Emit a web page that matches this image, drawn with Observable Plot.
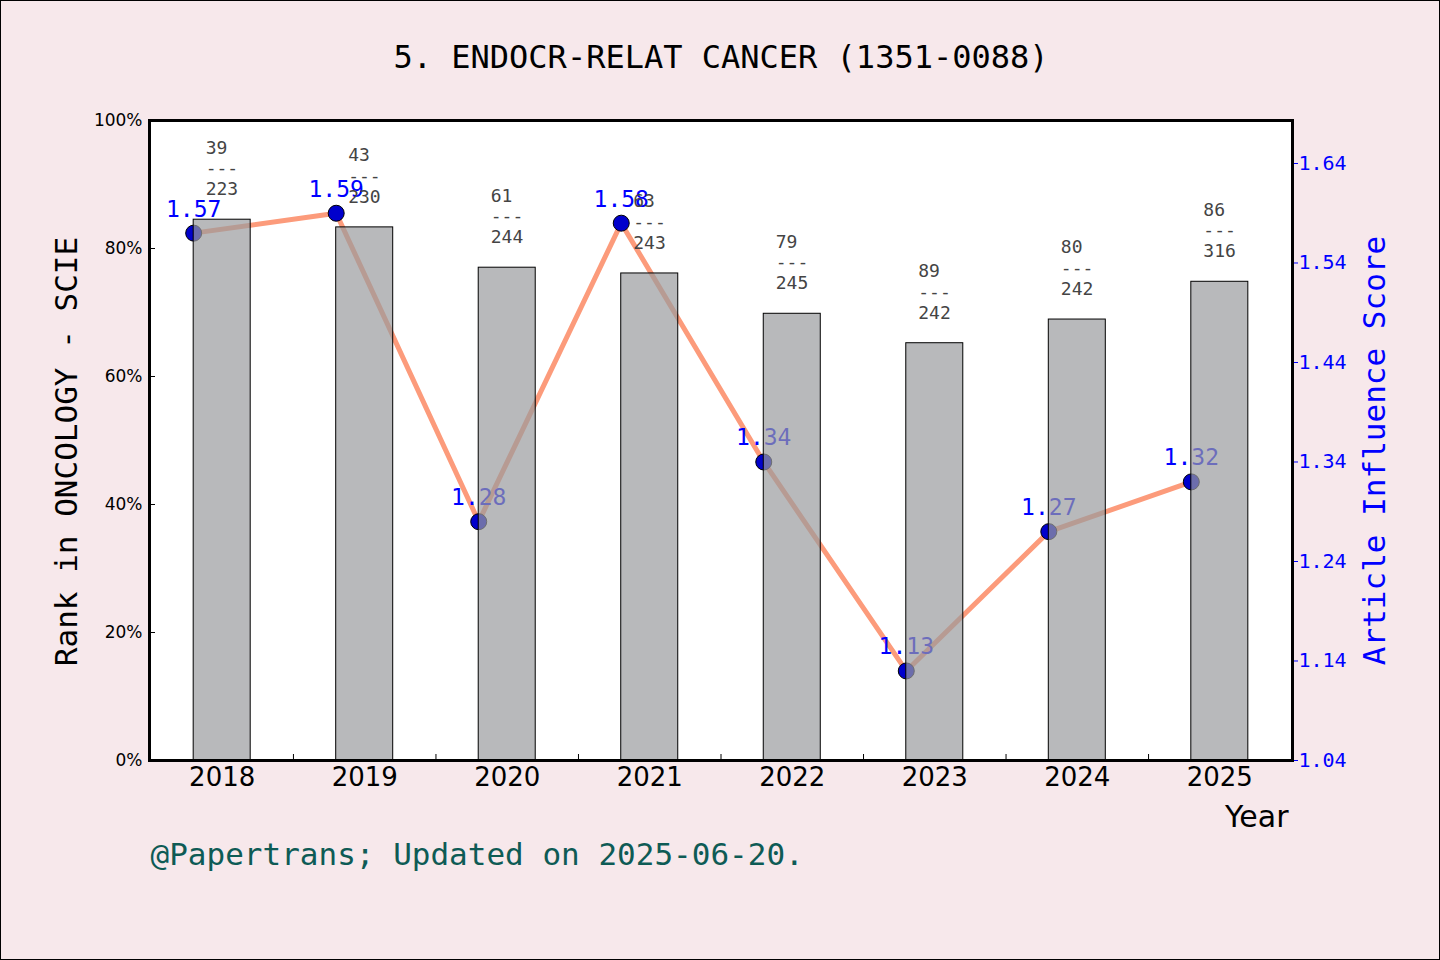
<!DOCTYPE html>
<html>
<head>
<meta charset="utf-8">
<script src="https://cdn.jsdelivr.net/npm/d3@7"></script>
<script src="https://cdn.jsdelivr.net/npm/@observablehq/plot@0.6"></script>
<style>
  html, body { margin: 0; padding: 0; background: #f7e8eb; }
  #wrap { position: relative; width: 1440px; height: 960px; overflow: hidden; }
  #border { position: absolute; left: 0; top: 0; width: 1440px; height: 960px; box-sizing: border-box; border: 1px solid #000; pointer-events: none; }
</style>
</head>
<body>
<div id="wrap"><div id="chart"></div><div id="border"></div></div>
<script>
const titleText = "5. ENDOCR-RELAT CANCER (1351-0088)";
const leftLabel = "Rank in ONCOLOGY - SCIE";
const rightLabel = "Article Influence Score";
const xLabel = "Year";
const caption = "@Papertrans; Updated on 2025-06-20.";

const years = ["2018", "2019", "2020", "2021", "2022", "2023", "2024", "2025"];
const ranks = [39, 43, 61, 63, 79, 89, 80, 86];
const totals = [223, 230, 244, 243, 245, 242, 242, 316];
const pctValues = [0.845, 0.833, 0.770, 0.761, 0.698, 0.652, 0.689, 0.748];
const aisValues = [1.57, 1.59, 1.28, 1.58, 1.34, 1.13, 1.27, 1.32];

const pctTicks = [0, 0.2, 0.4, 0.6, 0.8, 1.0];
const aisTicks = [1.04, 1.14, 1.24, 1.34, 1.44, 1.54, 1.64];
const aisMin = 1.04;
const aisMax = 1.6832;

const toY = v => (v - aisMin) / (aisMax - aisMin);
const fromY = y => aisMin + y * (aisMax - aisMin);

const data = years.map((year, i) => ({
  year, i, rank: ranks[i], total: totals[i], pct: pctValues[i], ais: aisValues[i]
}));
const minorTicks = years.slice(0, -1).map((_, i) => i + 0.7);

const mono = "DejaVu Sans Mono";
const sans = "DejaVu Sans";

const chart = Plot.plot({
  width: 1440,
  height: 960,
  marginTop: 120,
  marginBottom: 200,
  marginLeft: 149,
  marginRight: 148,
  style: { background: "transparent", overflow: "visible" },
  x: { domain: [-0.31, 7.71], axis: null },
  y: { domain: [0, 1], axis: null },
  marks: [
    Plot.frame({ fill: "white" }),
    Plot.line(data, { x: "i", y: d => toY(d.ais), stroke: "#fc9b7b", strokeWidth: 5 }),
    Plot.dot(data, { x: "i", y: d => toY(d.ais), r: 8, fill: "#0000cc", stroke: "black", strokeWidth: 1 }),
    Plot.text(data, { x: "i", y: d => toY(d.ais), text: d => d.ais.toFixed(2), dy: -24, fill: "#0000ff", fontSize: 23, fontFamily: mono }),
    Plot.rectY(data, { x1: "i", x2: d => d.i + 0.4, y: "pct", fill: "#9a9b9e", fillOpacity: 0.7, stroke: "black", strokeWidth: 1 }),
    Plot.text(data, {
      x: "i", y: "pct", text: d => `${d.rank}\n---\n${d.total}`,
      textAnchor: "start", dx: 12, dy: -52, lineAnchor: "middle", lineHeight: 1.15,
      fontSize: 18, fill: "#444", fontFamily: mono
    }),
    // inward ticks
    Plot.tickY(pctTicks, { y: d => d, stroke: "black", strokeWidth: 1, insetRight: 1137 }),
    Plot.tickX(minorTicks, { x: d => d, stroke: "black", strokeWidth: 1, insetTop: 634 }),
    Plot.axisY(pctTicks, {
      anchor: "left", tickSize: 0, tickPadding: 7, label: null,
      tickFormat: d => `${Math.round(d * 100)}%`, fontSize: 17, fontFamily: sans, color: "black"
    }),
    Plot.axisY(aisTicks.map(toY), {
      anchor: "right", tickSize: 5, tickPadding: 1, label: null,
      tickFormat: d => fromY(d).toFixed(2), fontSize: 20, fontFamily: mono, color: "#0000ff"
    }),
    Plot.text(data, { x: d => d.i + 0.2, text: "year", frameAnchor: "bottom", lineAnchor: "middle", dy: 17, fontSize: 26, fontFamily: sans, fill: "black" }),
    Plot.frame({ stroke: "black", strokeWidth: 3 }),
    Plot.text([titleText], { text: d => d, frameAnchor: "top", lineAnchor: "middle", dy: -63, fontSize: 32, fontFamily: mono, fill: "black" }),
    Plot.text([leftLabel], { text: d => d, frameAnchor: "left", textAnchor: "middle", lineAnchor: "middle", rotate: -90, dx: -82, dy: 11, fontSize: 31, fontFamily: mono, fill: "black" }),
    Plot.text([rightLabel], { text: d => d, frameAnchor: "right", textAnchor: "middle", lineAnchor: "middle", rotate: -90, dx: 83, dy: 10, fontSize: 31, fontFamily: mono, fill: "#0000ff" }),
    Plot.text([xLabel], { text: d => d, frameAnchor: "bottom-right", textAnchor: "end", lineAnchor: "middle", dx: -4, dy: 57, fontSize: 30, fontFamily: sans, fill: "black" }),
    Plot.text([caption], { text: d => d, frameAnchor: "bottom-left", textAnchor: "start", lineAnchor: "middle", dx: 1, dy: 95, fontSize: 31, fontFamily: mono, fill: "#0e5b55" })
  ]
});
document.getElementById("chart").appendChild(chart);
</script>
</body>
</html>
